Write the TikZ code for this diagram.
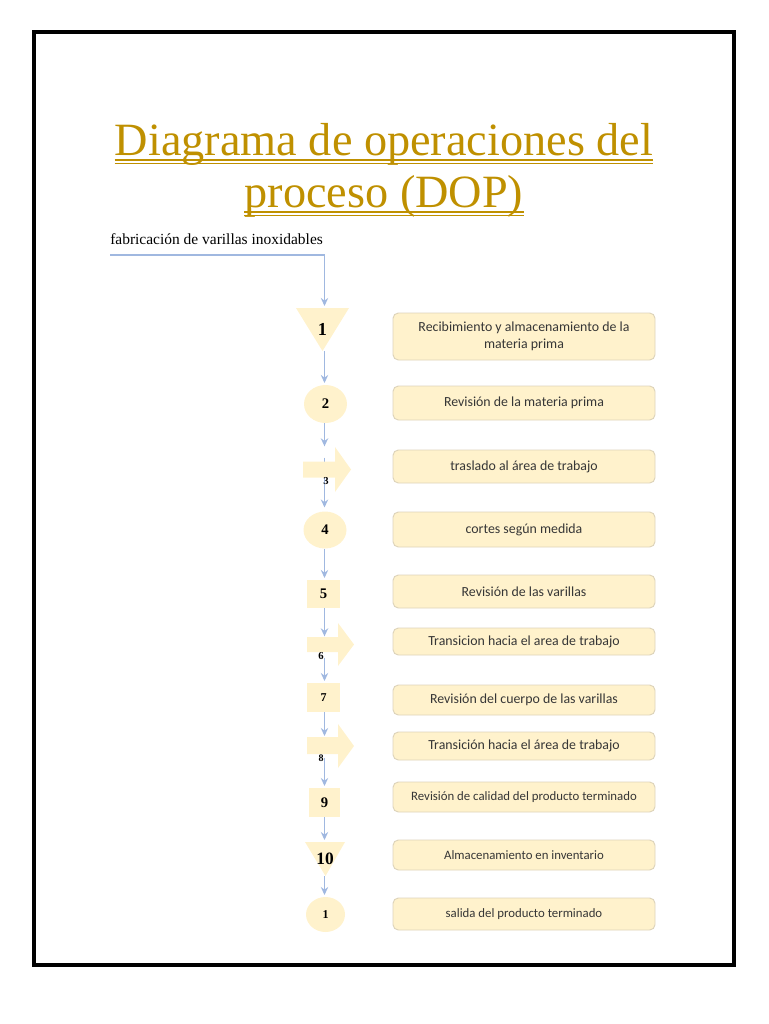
\documentclass[tikz,border=0pt]{standalone}
\usepackage{fontspec}
\setmainfont{Liberation Serif}
\newfontfamily\serifA{Liberation Serif}
\newfontfamily\carl{Carlito}
\usetikzlibrary{arrows.meta,backgrounds,shapes.geometric}
\definecolor{gold}{HTML}{BF9000}
\definecolor{shpfill}{HTML}{FFF2CC}
\definecolor{boxfill}{HTML}{FFF2CC}
\definecolor{boxline}{HTML}{DDD3BA}
\definecolor{connc}{RGB}{160,184,224}
\definecolor{boxtext}{HTML}{363636}
\begin{document}
\begin{tikzpicture}[x=0.75pt,y=-0.75pt,
  shp/.style={fill=shpfill,draw=none},
  num/.style={inner sep=0pt,outer sep=0pt},
  proc/.style={draw=boxline,fill=boxfill,line width=0.7pt,rounded corners=4pt,
    minimum width=196.5pt,inner sep=0pt,align=center,text=boxtext,
    font=\carl\fontsize{10.4}{12.75}\selectfont},
  procs/.style={proc,font=\carl\fontsize{9.6}{12}\selectfont},
  conn/.style={draw=connc,line width=1.25pt,-{Stealth[length=6pt,width=5.5pt]}}
]
\useasboundingbox (0,0) rectangle (768,1024);
\draw[line width=3pt] (34,32) rectangle (734,965);

% title
\node[anchor=base,text=gold,inner sep=0pt,font=\serifA\fontsize{34.7}{40}\selectfont] (t1) at (384,155) {Diagrama de operaciones del};
\node[anchor=base,text=gold,inner sep=0pt,font=\serifA\fontsize{34.7}{40}\selectfont] (t2) at (384,207) {proceso (DOP)};
\draw[gold,line width=1pt] ([yshift=-3.7pt]t1.base west) -- ([yshift=-3.7pt]t1.base east);
\draw[gold,line width=0.6pt] ([yshift=-6pt]t1.base west) -- ([yshift=-6pt]t1.base east);
\draw[gold,line width=1pt] ([yshift=-3.7pt]t2.base west) -- ([yshift=-3.7pt]t2.base east);
\draw[gold,line width=0.6pt] ([yshift=-6pt]t2.base west) -- ([yshift=-6pt]t2.base east);

\node[anchor=base west,inner sep=0pt,font=\serifA\fontsize{11.6}{14}\selectfont] (sub) at (110,244) {fabricación de varillas inoxidables};

\coordinate (st) at (110,255);
\coordinate (ax) at (324.5,0);

% 1 triangle
\fill[shp] (296,308) -- (349,308) -- (322.5,351) -- cycle;
\node[num,minimum width=39.75pt,minimum height=32.25pt,font=\serifA\bfseries\fontsize{13.7}{14}\selectfont] (s1) at (322.5,329.5) {1};
% 2 circle
\node[shp,ellipse,num,minimum width=32.25pt,minimum height=28.5pt,font=\serifA\bfseries\fontsize{11}{12}\selectfont] (s2) at (325.5,404) {2};
% 3 arrow
\fill[shp] (303,461.5) -- (335,461.5) -- (335,447) -- (351,469.5) -- (335,492) -- (335,477.5) -- (303,477.5) -- cycle;
\node[num,minimum width=36pt,minimum height=33.75pt] (s3) at (327,469.5) {};
\node[num,font=\serifA\bfseries\fontsize{8}{9}\selectfont] (l3) at (326,481) {3};
% 4 circle
\node[shp,ellipse,num,minimum width=32.25pt,minimum height=27.75pt,font=\serifA\bfseries\fontsize{11}{12}\selectfont] (s4) at (325,530) {4};
% 5 square
\node[shp,rectangle,num,minimum width=24.75pt,minimum height=21pt,font=\serifA\bfseries\fontsize{11}{12}\selectfont] (s5) at (323.5,594) {5};
% 6 arrow
\fill[shp] (307,637) -- (338,637) -- (338,623) -- (354,644.5) -- (338,666) -- (338,652) -- (307,652) -- cycle;
\node[num,minimum width=35.25pt,minimum height=32.25pt] (s6) at (330.5,644.5) {};
\node[num,font=\serifA\bfseries\fontsize{8}{9}\selectfont] (l6) at (321,656) {6};
% 7 square
\node[shp,rectangle,num,minimum width=24.75pt,minimum height=21.75pt,font=\serifA\bfseries\fontsize{9}{10}\selectfont] (s7) at (323.5,697.5) {7};
% 8 arrow
\fill[shp] (307,737) -- (338,737) -- (338,724) -- (354,746) -- (338,768) -- (338,754) -- (307,754) -- cycle;
\node[num,minimum width=35.25pt,minimum height=33pt] (s8) at (330.5,746) {};
\node[num,font=\serifA\bfseries\fontsize{7.5}{9}\selectfont] (l8) at (321,758) {8};
% 9 square
\node[shp,rectangle,num,minimum width=23.25pt,minimum height=21.75pt,font=\serifA\bfseries\fontsize{11}{12}\selectfont] (s9) at (324.5,802.5) {9};
% 10 triangle
\fill[shp] (305,842) -- (345,842) -- (325.5,876) -- cycle;
\node[num,minimum width=30pt,minimum height=25.5pt,font=\serifA\bfseries\fontsize{13}{14}\selectfont] (s10) at (325,859) {10};
% 11 circle
\node[shp,ellipse,num,minimum width=29.25pt,minimum height=26.25pt,font=\serifA\bfseries\fontsize{9}{10}\selectfont] (s11) at (325.5,914.5) {1};

% process boxes
\node[proc,minimum height=35.25pt] (b1) at (524,336.5) {Recibimiento y almacenamiento de la\\materia prima};
\node[proc,minimum height=25.5pt] (b2) at (524,403) {Revisión de la materia prima};
\node[proc,minimum height=24.75pt] (b3) at (524,466.5) {traslado al área de trabajo};
\node[proc,minimum height=26.25pt] (b4) at (524,529.5) {cortes según medida};
\node[proc,minimum height=24.75pt] (b5) at (524,591.5) {Revisión de las varillas};
\node[proc,minimum height=20.25pt] (b6) at (524,641.5) {Transicion hacia el area de trabajo};
\node[proc,minimum height=22.5pt] (b7) at (524,700) {Revisión del cuerpo de las varillas};
\node[proc,minimum height=21pt] (b8) at (524,746) {Transición hacia el área de trabajo};
\node[procs,minimum height=22.5pt] (b9) at (524,797) {Revisión de calidad del producto terminado};
\node[procs,minimum height=22.5pt] (b10) at (524,855) {Almacenamiento en inventario};
\node[procs,minimum height=24pt] (b11) at (524,914) {salida del producto terminado};

% connectors
\begin{scope}[on background layer]
\draw[conn,shorten >=1.5pt] (st) -| (s1.north -| ax);
\draw[conn,shorten >=1.5pt] (s1.south -| ax) -- (s2.north -| ax);
\draw[conn,shorten >=0.5pt] (s2.south -| ax) -- (s3.north -| ax);
\draw[conn,shorten <=8pt,shorten >=3pt] (s3.north -| ax) -- (s4.north -| ax);
\draw[conn,shorten >=1.5pt] (s4.south -| ax) -- (s5.north -| ax);
\draw[conn,shorten >=-10pt] (s5.south -| ax) -- (s6.north -| ax);
\draw[conn,shorten <=10pt,shorten >=1.5pt] (s6.center -| ax) -- (s7.north -| ax);
\draw[conn,shorten >=-9pt] (s7.south -| ax) -- (s8.north -| ax);
\draw[conn,shorten <=9pt,shorten >=1.5pt] (s8.center -| ax) -- (s9.north -| ax);
\draw[conn,shorten >=1.5pt] (s9.south -| ax) -- (s10.north -| ax);
\draw[conn,shorten >=1.5pt] (s10.south -| ax) -- (s11.north -| ax);
\end{scope}
\end{tikzpicture}
\end{document}
